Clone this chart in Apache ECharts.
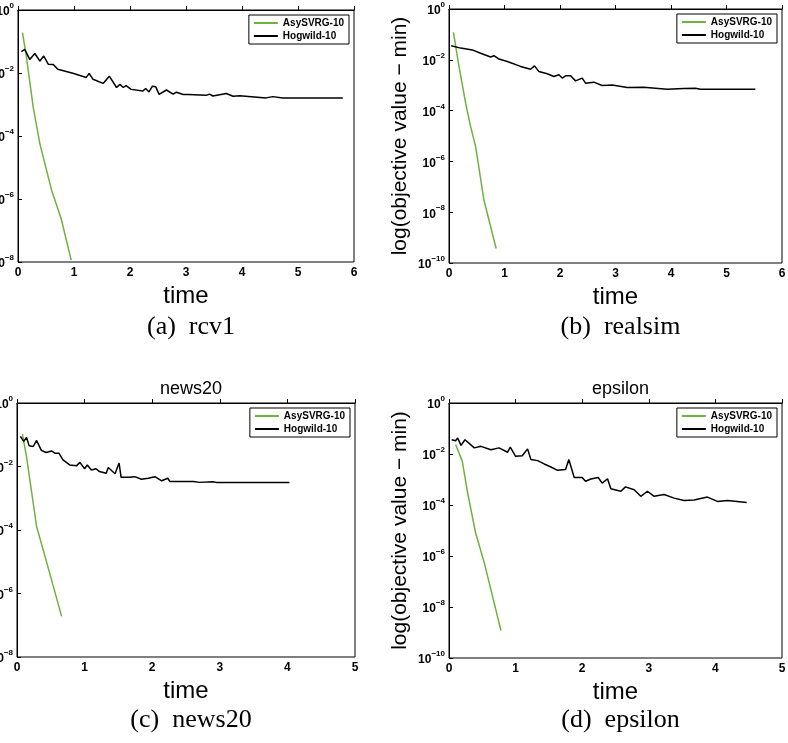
<!DOCTYPE html>
<html>
<head>
  <meta charset="utf-8">
</head>
<body style="height: 100%; margin: 0">
  <div id="container" style="width: 788px; height: 743px"></div>
  <script type="text/javascript" src="https://cdn.jsdelivr.net/npm/echarts@6/dist/echarts.min.js"></script>
  <script type="text/javascript">
    // values are [time, log10(objective value - min)]
    var rcv1Asy = [[0.08, -0.72], [0.15, -1.48], [0.27, -3.07], [0.39, -4.24], [0.6, -5.72], [0.77, -6.62], [0.95, -7.94]];
    var rcv1Hog = [[0.06, -1.32], [0.12, -1.25], [0.21, -1.57], [0.3, -1.38], [0.39, -1.62], [0.46, -1.46], [0.54, -1.72],
      [0.63, -1.73], [0.71, -1.88], [0.98, -2.01], [1.22, -2.14], [1.27, -2.01], [1.34, -2.2], [1.52, -2.33], [1.63, -2.1],
      [1.76, -2.46], [1.82, -2.36], [1.88, -2.46], [1.93, -2.4], [2.02, -2.52], [2.23, -2.57], [2.28, -2.49], [2.34, -2.6],
      [2.4, -2.42], [2.46, -2.44], [2.52, -2.68], [2.65, -2.54], [2.77, -2.67], [2.83, -2.61], [2.95, -2.68], [3.04, -2.68],
      [3.36, -2.71], [3.42, -2.67], [3.48, -2.73], [3.72, -2.65], [3.84, -2.74], [3.96, -2.72], [4.43, -2.79], [4.55, -2.75],
      [4.73, -2.79], [5.8, -2.79]];
    var realsimAsy = [[0.08, -0.92], [0.18, -2.26], [0.3, -3.71], [0.39, -4.63], [0.48, -5.42], [0.63, -7.53], [0.85, -9.43]];
    var realsimHog = [[0.04, -1.45], [0.21, -1.54], [0.42, -1.61], [0.57, -1.74], [0.75, -1.89], [0.81, -1.84], [0.9, -1.97],
      [1.05, -2.07], [1.29, -2.26], [1.47, -2.37], [1.54, -2.24], [1.62, -2.46], [1.77, -2.55], [1.89, -2.66], [1.98, -2.59],
      [2.04, -2.72], [2.1, -2.63], [2.19, -2.63], [2.28, -2.83], [2.4, -2.72], [2.46, -2.92], [2.61, -2.88], [2.76, -3.01],
      [2.94, -2.99], [3.21, -3.09], [3.51, -3.08], [3.93, -3.16], [4.23, -3.13], [4.44, -3.12], [4.53, -3.16], [5.52, -3.16]];
    var news20Asy = [[0.08, -0.98], [0.14, -1.68], [0.29, -3.89], [0.43, -4.95], [0.66, -6.72]];
    var news20Hog = [[0.05, -1.05], [0.1, -1.21], [0.14, -1.08], [0.18, -1.35], [0.24, -1.37], [0.29, -1.18], [0.36, -1.49],
      [0.43, -1.56], [0.51, -1.51], [0.56, -1.58], [0.62, -1.58], [0.68, -1.79], [0.78, -1.95], [0.88, -1.98], [0.93, -1.87],
      [1.0, -2.07], [1.04, -1.95], [1.1, -2.11], [1.17, -2.07], [1.22, -2.16], [1.32, -2.21], [1.35, -2.03], [1.45, -2.23],
      [1.51, -1.89], [1.54, -2.34], [1.67, -2.34], [1.74, -2.32], [1.84, -2.4], [1.94, -2.37], [2.04, -2.32], [2.14, -2.45],
      [2.23, -2.37], [2.26, -2.47], [2.61, -2.47], [2.7, -2.5], [2.9, -2.48], [2.95, -2.5], [4.03, -2.5]];
    var epsilonAsy = [[0.1, -1.63], [0.2, -2.29], [0.28, -3.53], [0.4, -5.1], [0.53, -6.27], [0.78, -8.92]];
    var epsilonHog = [[0.04, -1.44], [0.1, -1.48], [0.13, -1.37], [0.18, -1.66], [0.24, -1.44], [0.38, -1.76], [0.48, -1.7],
      [0.63, -1.83], [0.75, -1.76], [0.88, -1.93], [0.92, -1.73], [1.0, -2.09], [1.1, -2.07], [1.18, -1.8], [1.23, -2.22],
      [1.33, -2.26], [1.43, -2.39], [1.53, -2.51], [1.63, -2.64], [1.75, -2.61], [1.8, -2.22], [1.88, -2.92], [2.0, -2.92],
      [2.05, -3.07], [2.13, -2.98], [2.24, -2.92], [2.3, -3.14], [2.38, -2.97], [2.43, -3.36], [2.58, -3.46], [2.65, -3.29],
      [2.78, -3.4], [2.88, -3.66], [2.98, -3.46], [3.08, -3.66], [3.23, -3.59], [3.38, -3.73], [3.53, -3.82], [3.68, -3.8],
      [3.88, -3.69], [4.03, -3.86], [4.18, -3.82], [4.47, -3.9]];

    var panels = [
      { asy: rcv1Asy, hog: rcv1Hog, xMax: 6, yMin: -8, grid: { left: 18, top: 10, width: 336, height: 252 }, caption: '(a)  rcv1', title: '', yName: false },
      { asy: realsimAsy, hog: realsimHog, xMax: 6, yMin: -10, grid: { left: 449, top: 9, width: 333, height: 254 }, caption: '(b)  realsim', title: '', yName: true },
      { asy: news20Asy, hog: news20Hog, xMax: 5, yMin: -8, grid: { left: 17, top: 403, width: 338, height: 254 }, caption: '(c)  news20', title: 'news20', yName: false },
      { asy: epsilonAsy, hog: epsilonHog, xMax: 5, yMin: -10, grid: { left: 449, top: 403, width: 333, height: 255 }, caption: '(d)  epsilon', title: 'epsilon', yName: true }
    ];

    var font = 'Liberation Sans, Arial, sans-serif';
    var option = { animation: false, backgroundColor: '#fff', grid: [], xAxis: [], yAxis: [], series: [], legend: [], title: [] };

    panels.forEach(function (p, i) {
      var g = p.grid;
      option.grid.push({
        left: g.left, top: g.top, width: g.width, height: g.height, show: true,
        borderColor: '#000', borderWidth: 1, containLabel: false, outerBoundsMode: 'none'
      });
      option.xAxis.push({
        type: 'value', gridIndex: i, min: 0, max: p.xMax, interval: 1,
        name: 'time', nameLocation: 'middle', nameGap: 22,
        nameTextStyle: { fontFamily: font, fontSize: 24, color: '#000' },
        axisLine: { show: true, lineStyle: { color: '#000' } },
        axisTick: { inside: true, length: 4, lineStyle: { color: '#000' } },
        axisLabel: { fontFamily: font, fontSize: 12, fontWeight: 'bold', color: '#000', margin: 5 },
        splitLine: { show: false }
      });
      option.yAxis.push({
        type: 'value', gridIndex: i, min: p.yMin, max: 0, interval: 2,
        name: p.yName ? 'log(objective value \u2212 min)' : '', nameLocation: 'middle', nameGap: 38,
        nameTextStyle: { fontFamily: font, fontSize: 21, color: '#000' },
        axisLine: { show: true, lineStyle: { color: '#000' } },
        axisTick: { inside: true, length: 4, lineStyle: { color: '#000' } },
        axisLabel: {
          margin: 4,
          formatter: function (v) { return '{b|10}{s|' + String(v).replace('-', '\u2212') + '}'; },
          rich: {
            b: { fontFamily: font, fontSize: 12, fontWeight: 'bold', color: '#000', verticalAlign: 'bottom' },
            s: { fontFamily: font, fontSize: 8, fontWeight: 'bold', color: '#000', verticalAlign: 'top', padding: [0, 0, 8, 0] }
          }
        },
        splitLine: { show: false }
      });
      option.series.push({
        name: 'AsySVRG-10', type: 'line', xAxisIndex: i, yAxisIndex: i, data: p.asy,
        showSymbol: false, lineStyle: { color: '#6cb33f', width: 1.5 }, itemStyle: { color: '#6cb33f' }
      });
      option.series.push({
        name: 'Hogwild-10', type: 'line', xAxisIndex: i, yAxisIndex: i, data: p.hog,
        showSymbol: false, lineStyle: { color: '#000', width: 1.5 }, itemStyle: { color: '#000' }
      });
      option.legend.push({
        data: ['AsySVRG-10', 'Hogwild-10'], orient: 'vertical',
        right: 788 - g.left - g.width + 5, top: g.top + 5,
        backgroundColor: '#fff', borderColor: '#000', borderWidth: 1, padding: [3, 5],
        itemGap: 3, itemWidth: 24, itemHeight: 8, icon: 'path://M0,3L24,3L24,5L0,5Z',
        textStyle: { fontFamily: font, fontSize: 10, fontWeight: 'bold', color: '#000' }
      });
      option.title.push({
        text: p.caption, left: g.left + g.width / 2, top: i < 2 ? 309 : 702, textAlign: 'center',
        textStyle: { fontFamily: 'Liberation Serif, Times New Roman, serif', fontSize: 26, fontWeight: 'normal', color: '#000' }
      });
      if (p.title) {
        option.title.push({
          text: p.title, left: g.left + g.width / 2, top: g.top - 28, textAlign: 'center',
          textStyle: { fontFamily: font, fontSize: 18, fontWeight: 'normal', color: '#000' }
        });
      }
    });

    var myChart = echarts.init(document.getElementById('container'), null, { renderer: 'canvas' });
    myChart.setOption(option);
  </script>
</body>
</html>
